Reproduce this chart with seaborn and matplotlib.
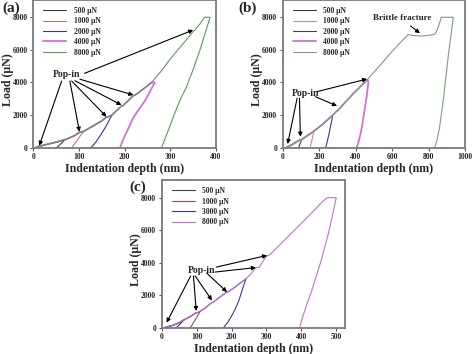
import pandas as pd
import seaborn as sns
import matplotlib.pyplot as plt

# ---- panel (a) ----
load_a_depth = [5, 13, 16, 25, 38, 50, 70, 90, 101, 104, 110, 130, 150, 160, 163, 172, 193, 196, 215, 219, 222, 240, 259, 280, 300, 325, 350, 353, 365, 375]
load_a_load = [0, 100, 105, 170, 260, 340, 500, 730, 950, 955, 1000, 1320, 1650, 1880, 1885, 2000, 2560, 2570, 3080, 3200, 3210, 3580, 4000, 4700, 5450, 6280, 7130, 7200, 7600, 8000]
labels_a = ['500 μN', '1000 μN', '2000 μN', '4000 μN', '8000 μN']
colors_a = ['#3c3c3c', '#c87878', '#3a3a78', '#d070d8', '#5a9a5a']
unload_a_depth = [
    [70, 62, 56, 52, 50],
    [110, 100, 93, 87, 84],
    [172, 160, 148, 137, 129, 125],
    [259, 266, 245, 220, 205, 195, 190],
    [375, 387, 376, 365, 350, 335, 321, 308, 296, 287, 281],
]
unload_a_load = [
    [500, 280, 120, 30, 0],
    [1000, 620, 330, 100, 0],
    [2000, 1350, 800, 350, 80, 0],
    [4000, 4000, 2900, 1900, 1000, 400, 0],
    [8000, 8000, 7000, 6000, 4800, 3700, 2900, 2000, 1100, 450, 0],
]

# ---- panel (b) ----
load_b_depth = [20, 27, 30, 45, 65, 85, 97, 100, 105, 130, 170, 220, 275, 298, 301, 340, 390, 440, 463, 466, 470, 535, 600, 644, 675, 688, 700, 730, 760, 790, 820, 836, 850, 862, 870]
load_b_load = [0, 60, 62, 150, 280, 420, 480, 482, 500, 700, 1000, 1450, 2000, 2260, 2265, 2750, 3350, 3900, 4150, 4155, 4250, 5070, 5900, 6430, 6780, 6950, 6900, 6870, 6850, 6880, 6920, 6980, 7300, 7700, 8000]
labels_b = ['500 μN', '1000 μN', '2000 μN', '4000 μN', '8000 μN']
colors_b = ['#3c3c3c', '#d08898', '#3a3a78', '#d070d8', '#7aa07a']
unload_b_depth = [
    [105, 97, 92, 89, 88],
    [170, 163, 157, 152, 150],
    [275, 265, 255, 245, 238, 235],
    [470, 460, 445, 430, 415, 405],
    [870, 936, 910, 882, 860, 845, 833],
]
unload_b_load = [
    [500, 300, 140, 40, 0],
    [1000, 600, 300, 90, 0],
    [2000, 1450, 900, 400, 100, 0],
    [4000, 3100, 2000, 1000, 300, 0],
    [8000, 8000, 5800, 3000, 1200, 400, 0],
]

# ---- panel (c) ----
load_c_depth = [10, 14, 17, 30, 50, 65, 80, 99, 102, 110, 125, 144, 147, 165, 187, 190, 210, 225, 241, 255, 270, 280, 295, 302, 310, 350, 400, 440, 460, 474]
load_c_load = [0, 60, 62, 130, 300, 500, 660, 920, 925, 1000, 1220, 1550, 1555, 1860, 2200, 2205, 2500, 2750, 3000, 3300, 3700, 3730, 4250, 4420, 4500, 5350, 6420, 7300, 7750, 8000]
labels_c = ['500 μN', '1000 μN', '3000 μN', '8000 μN']
colors_c = ['#4a3a4a', '#9a5050', '#3a3a8a', '#c070d0']
unload_c_depth = [
    [65, 55, 48, 43, 41],
    [110, 100, 91, 85, 81],
    [241, 232, 220, 205, 190, 177],
    [474, 500, 480, 455, 430, 412, 400, 395],
]
unload_c_load = [
    [500, 280, 120, 30, 0],
    [1000, 620, 320, 100, 0],
    [3000, 2400, 1600, 900, 350, 0],
    [8000, 8000, 6000, 4000, 2300, 1200, 400, 0],
]

sns.set_theme(style='ticks')
plt.rcParams['font.family'] = ['Liberation Serif', 'DejaVu Serif']
plt.rcParams['font.weight'] = 'bold'
plt.rcParams['axes.labelweight'] = 'bold'

fig = plt.figure(figsize=(4.74, 3.54), dpi=100)
ax_a = fig.add_axes([0.0703, 0.5828, 0.3854, 0.4172])
ax_b = fig.add_axes([0.5964, 0.5828, 0.3846, 0.4172])
ax_c = fig.add_axes([0.3411, 0.0743, 0.3867, 0.4164])


def draw_panel(ax, ld, ll, labels, colors, ud, ul):
    for i, lab in enumerate(labels):
        peak_d = ud[i][0]
        xs = [d for d in ld if d < peak_d] + ud[i]
        ys = [l for d, l in zip(ld, ll) if d < peak_d] + ul[i]
        df = pd.DataFrame({'depth': xs, 'load': ys})
        lw = 1.3 if colors[i] in ('#d070d8',) else 0.8
        sns.lineplot(data=df, x='depth', y='load', sort=False, estimator=None,
                     color=colors[i], linewidth=lw, label=lab, ax=ax)
    ax.legend(loc='upper left', bbox_to_anchor=(0.03, 0.985), frameon=False,
              fontsize=5.5, handlelength=3.0, handletextpad=1.0,
              labelspacing=0.32, borderaxespad=0.2)
    ax.set_xlabel('Indentation depth (nm)', fontsize=8.6, labelpad=1)
    ax.set_ylabel('Load (μN)', fontsize=8.6)
    ax.yaxis.set_label_coords(-0.108, 0.46)
    ax.set_yticks([0, 2000, 4000, 6000, 8000])
    ax.tick_params(labelsize=5.5, length=2.5, width=0.8, pad=1.5, color='#555555')
    for s in ax.spines.values():
        s.set_color('#7a7a7a')
        s.set_linewidth(1.3)


def arrow(ax, start, end):
    ax.annotate('', xy=end, xytext=start,
                arrowprops=dict(arrowstyle='-|>', color='black', lw=0.8,
                                mutation_scale=6, shrinkA=0, shrinkB=0))


draw_panel(ax_a, load_a_depth, load_a_load, labels_a, colors_a, unload_a_depth, unload_a_load)
ax_a.set_xlim(0, 400)
ax_a.set_ylim(0, 9060)
ax_a.set_xticks([0, 100, 200, 300, 400])
ax_a.text(73, 4500, 'Pop-in', fontsize=7, ha='center', va='center')
for s, e in [((62, 4090), (13, 120)), ((80, 4090), (101, 980)), ((84, 4090), (160, 1900)),
             ((91, 4110), (193, 2620)), ((102, 4200), (219, 3230)), ((112, 4560), (350, 7220))]:
    arrow(ax_a, s, e)

draw_panel(ax_b, load_b_depth, load_b_load, labels_b, colors_b, unload_b_depth, unload_b_load)
ax_b.set_xlim(0, 1000)
ax_b.set_ylim(0, 9060)
ax_b.set_xticks([0, 200, 400, 600, 800, 1000])
ax_b.text(125, 3335, 'Pop-in', fontsize=7, ha='center', va='center')
ax_b.text(656, 7940, 'Brittle fracture', fontsize=6.5, ha='center', va='center')
for s, e in [((79, 3030), (27, 225)), ((92, 3030), (97, 675)),
             ((189, 3440), (463, 4215)), ((179, 3130), (298, 2560)),
             ((701, 7470), (753, 7020))]:
    arrow(ax_b, s, e)

draw_panel(ax_c, load_c_depth, load_c_load, labels_c, colors_c, unload_c_depth, unload_c_load)
ax_c.set_xlim(0, 525)
ax_c.set_ylim(0, 9070)
ax_c.set_xticks([0, 100, 200, 300, 400, 500])
ax_c.text(115, 3490, 'Pop-in', fontsize=7, ha='center', va='center')
for s, e in [((83, 3180), (14, 310)), ((91, 3180), (99, 1025)), ((96, 3180), (144, 1680)),
             ((129, 3360), (187, 2195)), ((153, 3425), (270, 3700)), ((157, 3730), (302, 4450))]:
    arrow(ax_c, s, e)

fig.text(0.006, 1 - 12 / 354, '(a)', fontsize=11, fontweight='bold')
fig.text(0.503, 1 - 12 / 354, '(b)', fontsize=11, fontweight='bold')
fig.text(0.273, 1 - 191 / 354, '(c)', fontsize=11, fontweight='bold')

fig.savefig('out.png', dpi=100, facecolor='white')
